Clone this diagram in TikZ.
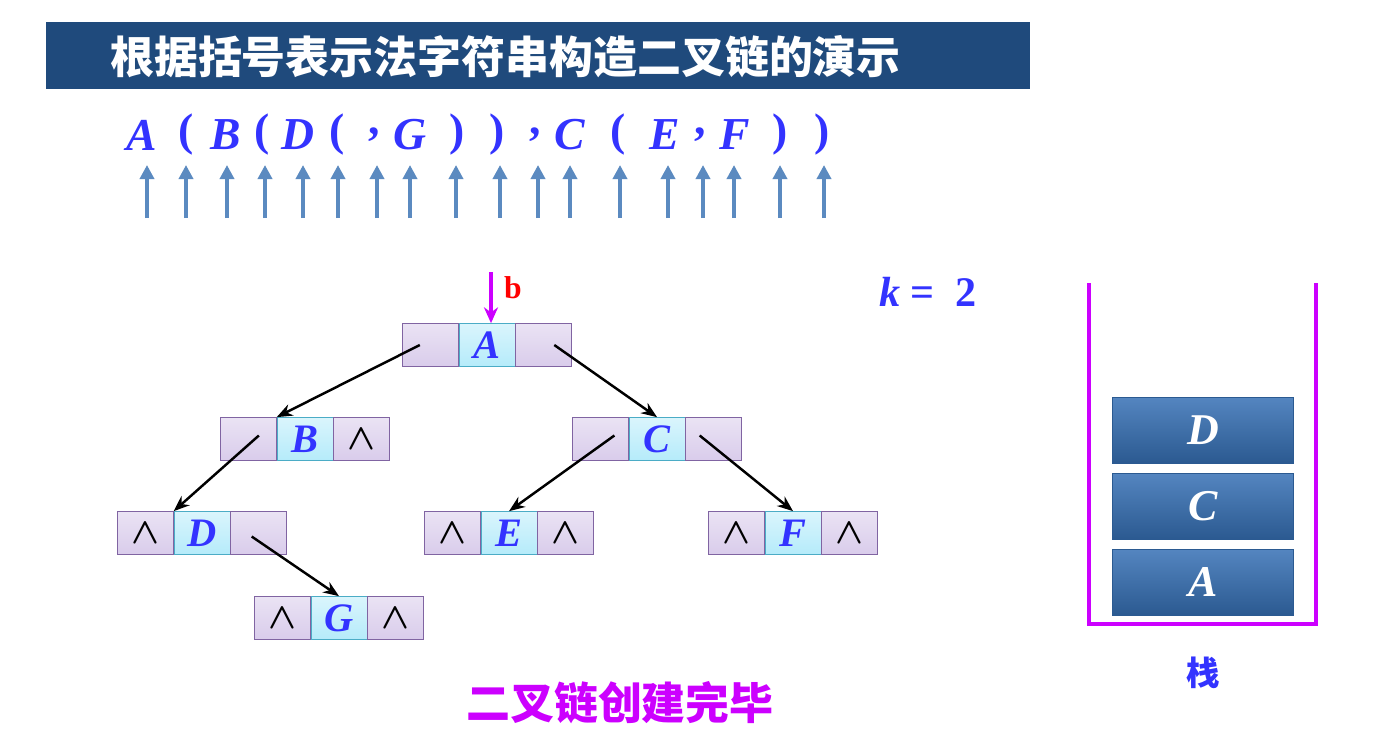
\documentclass[tikz,border=0pt]{standalone}
\usepackage{fontspec}
\usepackage{amsmath}
\setmainfont{Liberation Serif}
\newfontfamily\cjk{Noto Sans CJK SC}
\usetikzlibrary{positioning,arrows.meta}
\definecolor{barblue}{HTML}{1F4A7C}
\definecolor{txtblue}{HTML}{3333FF}
\definecolor{arrblue}{HTML}{5B8AC0}
\definecolor{cellpur}{HTML}{D9CCEB}
\definecolor{edgepur}{HTML}{8064A2}
\definecolor{cellcyan}{HTML}{B5EBFA}
\definecolor{edgecyan}{HTML}{4BACC6}
\definecolor{stackblue}{HTML}{3670B5}
\definecolor{magenta2}{HTML}{CC00FF}
\tikzset{
  sidecell/.style={draw=edgepur,top color=cellpur!55,bottom color=cellpur,minimum width=1.12cm,minimum height=0.86cm,inner sep=0pt,font=\bfseries\fontsize{20}{20}\selectfont},
  datacell/.style={draw=edgecyan,top color=cellcyan!50,bottom color=cellcyan,minimum width=1.12cm,minimum height=0.86cm,inner sep=0pt,text=txtblue,font=\bfseries\itshape\fontsize{23}{23}\selectfont},
  stackcell/.style={draw=stackblue!80!black,top color=stackblue!85!white,bottom color=stackblue!80!black,minimum width=3.62cm,minimum height=1.32cm,inner sep=0pt,text=white,font=\bfseries\itshape\fontsize{25}{25}\selectfont},
  strchar/.style={text=txtblue,font=\bfseries\fontsize{26}{26}\selectfont,inner sep=0pt},
  link/.style={-{Stealth[length=9pt,width=7pt]},line width=1.4pt}
}
% one binary-chain node: name, x, y (left edge, centre), letter, left, right
\newcommand{\chainnode}[6]{%
  \node[sidecell,anchor=west] (#1l) at (#2,#3) {#5};
  \node[datacell,right=0pt of #1l] (#1) {#4};
  \node[sidecell,right=0pt of #1] (#1r) {#6};}
\newcommand{\nil}{$\boldsymbol{\wedge}$}
\begin{document}
\begin{tikzpicture}[x=0.02cm,y=-0.02cm]
\useasboundingbox (0,0) rectangle (1375,747);
% title bar
\fill[barblue] (46,22) rectangle (1030,89);
\node[anchor=west,text=white,font=\cjk\bfseries\fontsize{25}{25}\selectfont] (title) at (104,57) {根据括号表示法字符串构造二叉链的演示};
% the string and the scan arrows
\foreach \x/\c [count=\i] in {142/\textit{A},186/(,226/\textit{B},262/(,298/\textit{D},337/(,374/{,},410/\textit{G},457/),497/),535/{,},570/\textit{C},618/(,665/\textit{E},700/{,},735/\textit{F},780/),822/)}
  \node[strchar] (s\i) at (\x,135) {\c};
\foreach \x [count=\i] in {147,186,227,265,303,338,377,410,456,500,538,570,620,668,703,734,780,824}{
  \coordinate (t\i) at (\x,218);
  \coordinate (h\i) at (\x,165);
  \draw[arrblue,line width=2pt,-{Triangle[length=8pt,width=8pt]}] (t\i) -- (h\i);}
% the tree
\chainnode{A}{402}{345}{A}{}{}
\chainnode{B}{220}{439}{B}{}{\nil}
\chainnode{C}{572}{439}{C}{}{}
\chainnode{D}{117}{533}{D}{\nil}{}
\chainnode{E}{424}{533}{E}{\nil}{\nil}
\chainnode{F}{708}{533}{F}{\nil}{\nil}
\chainnode{G}{254}{618}{G}{\nil}{\nil}
\draw[link] ([xshift=-6pt]Al.center) -- (B.north west);
\draw[link] ([xshift=6pt]Ar.center) -- (C.north);
\draw[link] ([xshift=6pt,yshift=2pt]Bl.center) -- (D.north west);
\draw[link] ([xshift=8pt,yshift=2pt]Cl.center) -- (E.north);
\draw[link] ([xshift=-8pt,yshift=2pt]Cr.center) -- (F.north);
\draw[link] ([xshift=-4pt,yshift=-2pt]Dr.center) -- (G.north);
% pointer b
\coordinate (btop) at (491,272);
\draw[magenta2,line width=2pt,-{Stealth[length=9pt,width=8pt]}] (btop) -- (btop |- A.north);
\node[text=red,font=\bfseries\fontsize{18}{18}\selectfont] (blabel) at (513,288) {b};
\node[text=txtblue,font=\bfseries\fontsize{24}{24}\selectfont] (kval) at (928,292) {\textit{k} =\ \ 2};
% the stack
\draw[magenta2,line width=2.5pt] (1089,283) -- (1089,624) -- (1316,624) -- (1316,283);
\node[stackcell] (sA) at (1203,582) {A};
\node[stackcell] (sC) at (1203,506) {C};
\node[stackcell] (sD) at (1203,430) {D};
\node[text=txtblue,font=\cjk\bfseries\fontsize{19}{19}\selectfont] (stk) at (1203,673) {栈};
\node[text=magenta2,font=\cjk\bfseries\fontsize{25}{25}\selectfont] (done) at (620,703) {二叉链创建完毕};
\end{tikzpicture}
\end{document}
